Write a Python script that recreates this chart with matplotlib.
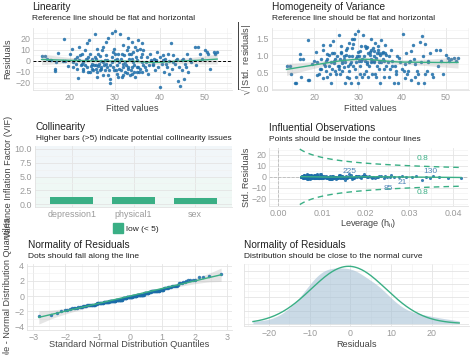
import numpy as np
import matplotlib
matplotlib.use("Agg")
import matplotlib.pyplot as plt
from matplotlib.ticker import MultipleLocator, NullFormatter
from matplotlib.patches import Patch
from statistics import NormalDist

plt.rcParams['font.family'] = ['Liberation Sans', 'DejaVu Sans']

# fitted values / residuals
fitted = [13.7, 14.4, 14.8, 15.6, 16.7, 16.7, 17.4, 18.7, 18.9, 19.6,
          20.0, 20.4, 20.7, 21.1, 21.5, 21.9, 22.1, 22.2, 22.4, 22.6,
          22.8, 23.0, 23.3, 23.5, 23.7, 23.9, 24.1, 24.3, 24.4, 24.6,
          24.8, 25.0, 25.2, 25.6, 25.7, 25.9, 26.1, 26.3, 26.4, 26.7,
          26.8, 27.0, 27.3, 27.4, 27.6, 27.8, 28.0, 28.1, 28.3, 28.5,
          28.7, 28.9, 29.0, 29.3, 29.4, 29.6, 29.8, 30.0, 30.1, 30.4,
          30.5, 30.7, 30.9, 31.1, 31.3, 31.5, 31.7, 31.9, 32.1, 32.2,
          32.4, 32.6, 32.8, 33.0, 33.2, 33.3, 33.6, 33.7, 33.9, 34.1,
          34.3, 34.4, 34.7, 34.8, 35.0, 35.2, 35.4, 35.6, 35.8, 35.9,
          36.1, 36.3, 36.7, 37.0, 37.4, 37.8, 38.1, 38.4, 38.7, 38.9,
          39.3, 39.6, 39.9, 40.1, 40.4, 40.6, 40.9, 41.1, 41.5, 41.7,
          42.1, 42.4, 42.6, 43.0, 43.3, 43.7, 44.1, 44.3, 44.4, 44.8,
          45.0, 45.3, 45.6, 45.9, 46.3, 46.7, 47.0, 47.8, 48.1, 48.5,
          48.9, 49.3, 50.0, 50.4, 50.7, 51.1, 51.9, 52.2, 52.7,
          22.6, 23.3, 23.9, 24.8, 25.3, 25.8, 26.3, 26.7, 27.0, 27.4,
          28.0, 28.3, 28.9, 29.3, 29.6, 30.0, 30.2, 30.5, 30.9, 31.3,
          31.6, 31.9, 32.2, 32.6, 33.0, 33.2, 33.5, 33.9, 34.2, 34.5,
          34.9, 35.2, 35.6, 35.9, 36.3, 36.9, 37.2, 37.6, 38.5, 39.1,
          40.7, 41.3, 41.9, 42.9, 43.6, 45.2, 45.8, 20.7, 21.3, 18.5,
          17.0, 15.9, 21.6, 22.1, 23.0, 24.1, 24.4, 25.6, 26.1, 27.8,
          28.5, 30.7, 31.7, 33.7, 34.8,
          27.2, 29.9, 32.9, 34.0, 36.0, 26.0]
residuals = [4.2, 4.2, 1.8, 0.3, -7.3, -9.7, 7.3, 19.4, -0.6, -4.8,
             6.4, 10.9, -1.5, 1.8, -7.3, -15.5, 12.4, 4.8, -4.2, 6.4,
             -9.7, -1.2, 9.4, 1.8, 15.5, -5.8, -10.3, 18.5, 6.4, -5.2,
             -7.3, 1.8, -8.8, 23.6, -4.2, 1.8, -10.3, 6.4, -2.7, 3.9,
             -7.3, -0.3, 12.4, -13.3, -4.2, 0.9, 17.0, 4.8, -5.8, 20.0,
             -8.8, -16.4, -20.3, 24.5, -1.2, 7.9, -8.8, 26.7, 6.4, -4.2,
             -11.8, 6.4, -7.3, 23.6, 1.8, -14.8, -2.7, 13.9, 4.8, -10.3,
             -4.2, 9.4, -7.3, 20.0, 1.8, -13.3, 6.4, -5.8, 17.0, -1.2,
             -10.3, 12.4, 3.3, -5.8, 9.4, 19.0, -10.3, 10.9, 3.3, -1.2,
             -10.3, 9.4, -5.8, -1.2, -12.4, 6.4, 0.3, -4.2, 1.8, -8.8,
             7.9, -5.8, 3.3, -23.9, -2.7, 4.8, -10.3, 1.8, -5.8, 6.4,
             -0.6, 15.5, -7.3, 4.8, -2.7, 1.8, -17.9, -5.8, -22.4, -8.8,
             0.3, -16.4, -2.7, 6.4, -10.3, 1.8, -1.2, 12.4, -4.2, 12.4,
             6.4, 1.8, 9.4, 7.9, 6.4, -7.3, 7.9, 6.4, 7.9,
             -2.7, -4.2, 0.3, -2.7, -4.2, -7.3, -5.2, -8.8, -5.8, -1.2,
             -2.7, 0.3, -4.2, 3.3, -5.8, 0.3, -8.8, 1.8, -1.2, -8.8,
             6.4, -5.8, -1.2, -11.2, -5.8, 6.4, -8.8, 1.8, -4.2, -14.8,
             0.3, -5.8, -7.3, 6.4, -4.2, -8.8, 3.3, -4.2, -2.7, 0.3,
             0.9, -2.7, -11.8, -1.2, 0.3, 1.8, -5.8, -5.8, -3.3, -0.6,
             -1.2, 0.3, 3.3, 0.9, -7.3, 3.3, -10.3, 3.3, -14.8, -8.8,
             -13.3, -14.8, -13.3, -11.8, -10.3,
             9.4, 10.9, 12.4, 7.9, 15.5, 10.9]
leverage = [0.0062, 0.0105, 0.0078, 0.0131, 0.0094, 0.0057, 0.0183, 0.0069, 0.0112, 0.0088,
            0.0145, 0.0071, 0.0203, 0.0098, 0.0064, 0.0121, 0.0167, 0.0083, 0.0052, 0.0139,
            0.0091, 0.0226, 0.0075, 0.0118, 0.0059, 0.0154, 0.0102, 0.0067, 0.0191, 0.0086,
            0.0128, 0.0073, 0.0241, 0.0096, 0.0061, 0.0175, 0.0109, 0.0081, 0.0136, 0.0055,
            0.0214, 0.0093, 0.0068, 0.0149, 0.0116, 0.0077, 0.0259, 0.0101, 0.0063, 0.0162,
            0.0085, 0.0124, 0.0072, 0.0197, 0.0107, 0.0058, 0.0143, 0.0089, 0.0231, 0.0066,
            0.0114, 0.0079, 0.0171, 0.0097, 0.0053, 0.0133, 0.0276, 0.0084, 0.0119, 0.0070,
            0.0188, 0.0092, 0.0148, 0.0065, 0.0106, 0.0221, 0.0080, 0.0127, 0.0060, 0.0159,
            0.0099, 0.0074, 0.0208, 0.0113, 0.0087, 0.0138, 0.0056, 0.0178, 0.0095, 0.0292,
            0.0069, 0.0122, 0.0082, 0.0164, 0.0103, 0.0061, 0.0248, 0.0090, 0.0130, 0.0076,
            0.0185, 0.0111, 0.0054, 0.0152, 0.0087, 0.0315, 0.0072, 0.0126, 0.0098, 0.0199,
            0.0064, 0.0141, 0.0081, 0.0236, 0.0108, 0.0059, 0.0169, 0.0093, 0.0329, 0.0077,
            0.0117, 0.0067, 0.0212, 0.0100, 0.0134, 0.0057, 0.0181, 0.0088, 0.0264, 0.0071,
            0.0156, 0.0104, 0.0062, 0.0194, 0.0085, 0.0346, 0.0125, 0.0079, 0.0146, 0.0052,
            0.0228, 0.0096, 0.0115, 0.0068, 0.0173, 0.0368, 0.0090, 0.0137, 0.0075, 0.0205,
            0.0058, 0.0110, 0.0283, 0.0083, 0.0160, 0.0066, 0.0123, 0.0097, 0.0389, 0.0073,
            0.0190, 0.0102, 0.0135, 0.0060, 0.0244, 0.0086, 0.0150, 0.0070, 0.0119, 0.0305,
            0.0094, 0.0063, 0.0177, 0.0107, 0.0418, 0.0080, 0.0132, 0.0056, 0.0216, 0.0091,
            0.0166, 0.0074, 0.0112, 0.0338, 0.0065, 0.0142, 0.0099, 0.0186, 0.0078, 0.0255,
            0.0104, 0.0061, 0.0128, 0.0089, 0.0201, 0.0071, 0.0355, 0.0116, 0.0084, 0.0158,
            0.0068, 0.0124, 0.0093, 0.0171, 0.0057, 0.0109, 0.0082, 0.0139, 0.0075, 0.0196]

vif_terms = ['depression1', 'physical1', 'sex']
vif_values = [1.22, 1.22, 1.15]

# labelled observations in the influence plot (id, leverage, std. residual of label)
infl_ids = ['225', '130', '21', '85']
infl_lev = [0.0164, 0.0347, 0.0283, 0.0251]
infl_res = [5.1, 4.8, -4.9, -10.9]
cook_level = 0.8
n_params = 4

BLUE = '#1b6ca8'
GREEN = '#3aaf85'
TXT = '#222222'
TICK = '#9a9a9a'

fitted = np.array(fitted)
residuals = np.array(residuals)
leverage = np.array(leverage)
n = len(residuals)
sd = residuals.std(ddof=1)
std_res = residuals / sd


def loess(x, y, grid, span=0.75):
    k = int(np.ceil(span * len(x)))
    rows = []
    for g in grid:
        d = np.abs(x - g)
        h = np.sort(d)[k - 1]
        w = np.clip(1 - (d / h) ** 3, 0, None) ** 3
        X = np.column_stack([np.ones(len(x)), x - g])
        XtW = X.T * w
        rows.append(np.linalg.solve(XtW @ X, XtW)[0])
    L = np.array(rows)
    fit = L @ y
    s = np.std(y - np.interp(x, grid, fit))
    return fit, 1.97 * s * np.sqrt((L ** 2).sum(axis=1))


W, H = 474, 355
fig = plt.figure(figsize=(4.74, 3.55), dpi=100)


def box(l, t, r, b):
    return [l / W, 1 - b / H, (r - l) / W, (b - t) / H]


def style(ax, xmaj, xmin, ymaj, ymin):
    ax.xaxis.set_major_locator(MultipleLocator(xmaj))
    ax.xaxis.set_minor_locator(MultipleLocator(xmin))
    ax.yaxis.set_major_locator(MultipleLocator(ymaj))
    ax.yaxis.set_minor_locator(MultipleLocator(ymin))
    ax.grid(which='major', color='#e4e4e4', lw=0.6)
    ax.grid(which='minor', color='#f0f0f0', lw=0.4)
    ax.set_axisbelow(True)
    ax.tick_params(which='both', length=0, labelsize=6.4, labelcolor=TICK, pad=2)
    for s in ['top', 'right']:
        ax.spines[s].set_visible(False)
    for s in ['left', 'bottom']:
        ax.spines[s].set_color('#e2e2e2')
        ax.spines[s].set_linewidth(0.6)


def titles(x, y, title, sub):
    fig.text(x / W, 1 - y / H, title, fontsize=7.3, color=TXT, va='center')
    fig.text(x / W, 1 - (y + 12) / H, sub, fontsize=6, color=TXT, va='center')


def labels(ax, xl, xpos, yl, ypos):
    if xl:
        ax.set_xlabel(xl, fontsize=6.6, color='#444444', va='center')
        ax.xaxis.set_label_coords(0.5, xpos)
    if yl:
        ax.set_ylabel(yl, fontsize=6.6, color='#444444', va='center')
        ax.yaxis.set_label_coords(ypos, 0.5)


# Linearity
ax = fig.add_axes(box(33, 28, 232, 90))
style(ax, 10, 5, 10, 5)
ax.scatter(fitted, residuals, s=6, color=BLUE, alpha=0.85, lw=0, zorder=2)
g = np.linspace(fitted.min(), fitted.max(), 80)
f, b = loess(fitted, residuals, g)
ax.fill_between(g, f - b, f + b, color='#999999', alpha=0.25, lw=0, zorder=3)
ax.plot(g, f, color=GREEN, lw=1, zorder=4)
ax.axhline(0, color='black', ls='--', lw=0.7, dashes=(3, 2), zorder=5)
ax.set_xlim(11.8, 56)
ax.set_ylim(-26.4, 29.4)
labels(ax, 'Fitted values', -0.30, 'Residuals', -0.126)
titles(32, 7, 'Linearity', 'Reference line should be flat and horizontal')

# Homogeneity of variance
sq = np.sqrt(np.abs(std_res))
ax = fig.add_axes(box(272, 28, 469, 90))
style(ax, 10, 5, 0.5, 0.25)
ax.scatter(fitted, sq, s=6, color=BLUE, alpha=0.85, lw=0, zorder=2)
f, b = loess(fitted, sq, g)
ax.fill_between(g, f - b, f + b, color='#999999', alpha=0.25, lw=0, zorder=3)
ax.plot(g, f, color=GREEN, lw=1, zorder=4)
ax.set_xlim(10.4, 55.2)
ax.set_ylim(-0.03, 1.8)
ax.yaxis.set_major_formatter(matplotlib.ticker.FormatStrFormatter('%.1f'))
labels(ax, 'Fitted values', -0.30, r'$\sqrt{|\mathregular{Std.\ residuals}|}$', -0.135)
titles(272, 7, 'Homogeneity of Variance', 'Reference line should be flat and horizontal')

# Collinearity
ax = fig.add_axes(box(35, 146, 232, 207))
style(ax, 1, 0.5, 2.5, 1.25)
ax.xaxis.set_minor_locator(MultipleLocator(100))
ax.axhspan(-0.5, 5, color=GREEN, alpha=0.08, lw=0, zorder=0)
ax.axhspan(5, 10.5, color=BLUE, alpha=0.06, lw=0, zorder=0)
xs = np.arange(1, len(vif_terms) + 1)
ax.bar(xs, vif_values, width=0.7, color=GREEN, zorder=3)
ax.set_xticks(xs)
ax.set_xticklabels(vif_terms)
ax.set_xlim(0.4, 3.6)
ax.set_ylim(-0.5, 10.5)
ax.yaxis.set_major_formatter(matplotlib.ticker.FormatStrFormatter('%.1f'))
labels(ax, None, 0, 'Variance Inflation Factor (VIF)', -0.137)
titles(36, 127, 'Collinearity', 'Higher bars (>5) indicate potential collinearity issues')
fig.legend(handles=[Patch(color=GREEN, label='low (< 5)')], loc='center',
           bbox_to_anchor=(136 / W, 1 - 228 / H), frameon=False, fontsize=6,
           handlelength=1.1, handleheight=1.6, handletextpad=0.4, labelcolor=TXT)

# Influential observations
ax = fig.add_axes(box(269, 148, 468, 206))
style(ax, 0.01, 0.005, 10, 5)
sr = residuals / (sd * np.sqrt(1 - leverage))
hh = np.linspace(leverage.min() * 0.95, leverage.max(), 100)
cc = np.sqrt(cook_level * n_params * (1 - hh) / hh)
ax.plot(hh, cc, color=GREEN, ls='--', lw=1, dashes=(4, 3), zorder=3)
ax.plot(hh, -cc, color=GREEN, ls='--', lw=1, dashes=(4, 3), zorder=3)
ax.axhline(0, color='#bbbbbb', ls='--', lw=0.6, zorder=1)
ax.axvline(0, color='#bbbbbb', ls='--', lw=0.6, zorder=1)
ax.scatter(leverage, sr, s=5, color=BLUE, alpha=0.85, lw=0, zorder=2)
gl = np.linspace(leverage.min(), leverage.max(), 80)
f, b = loess(leverage, sr, gl)
ax.plot(gl, f, color=GREEN, lw=1, zorder=4)
for t, lx, ly in zip(infl_ids, infl_lev, infl_res):
    ax.text(lx, ly, t, fontsize=6, color='#4f86b8', ha='center', va='center', zorder=5)
ax.text(0.0331, 16.6, str(cook_level), fontsize=6, color=GREEN, ha='center', va='center')
ax.text(0.0331, -14.5, str(cook_level), fontsize=6, color=GREEN, ha='center', va='center')
ax.set_xlim(-0.0021, 0.0434)
ax.set_ylim(-26.7, 26.4)
ax.xaxis.set_major_formatter(matplotlib.ticker.FormatStrFormatter('%.2f'))
labels(ax, r'Leverage ($\mathregular{h_{ii}}$)', -0.30, 'Std. Residuals', -0.114)
titles(269, 128, 'Influential Observations', 'Points should be inside the contour lines')

# Normality (QQ)
nd = NormalDist()
pp = (np.arange(1, n + 1) - 0.5) / n
theo = np.array([nd.inv_cdf(p) for p in pp])
samp = np.sort(std_res)
dens = np.exp(-theo ** 2 / 2) / np.sqrt(2 * np.pi)
se = np.sqrt(pp * (1 - pp) / n) / dens
ax = fig.add_axes(box(27, 264, 232, 330))
style(ax, 1, 0.5, 2, 1)
ax.fill_between(theo, theo - 1.96 * se, theo + 1.96 * se, color='#999999', alpha=0.25, lw=0, zorder=1)
ax.plot(theo, theo, color=GREEN, lw=1, zorder=3)
ax.scatter(theo, samp, s=6, color=BLUE, alpha=0.85, lw=0, zorder=2)
ax.set_xlim(-3.19, 3.16)
ax.set_ylim(-4.5, 4.25)
labels(ax, 'Standard Normal Distribution Quantiles', -0.227,
       'Sample - Normal Distribution Quantiles', -0.093)
titles(28, 245, 'Normality of Residuals', 'Dots should fall along the line')

# Normality (density)
xr = np.linspace(residuals.min(), residuals.max(), 200)
iqr = np.subtract(*np.percentile(residuals, [75, 25]))
bw = 0.9 * min(sd, iqr / 1.34) * n ** -0.2
kde = np.exp(-0.5 * ((xr[:, None] - residuals[None, :]) / bw) ** 2).sum(axis=1) / (n * bw * np.sqrt(2 * np.pi))
norm_curve = np.exp(-0.5 * ((xr - residuals.mean()) / sd) ** 2) / (sd * np.sqrt(2 * np.pi))
ax = fig.add_axes(box(244, 264, 469, 326))
style(ax, 10, 5, 0.01, 0.005)
ax.fill_between(xr, 0, kde, color='#9fbdd3', alpha=0.55, lw=0, zorder=1)
ax.plot(xr, norm_curve, color=GREEN, lw=1, zorder=3)
top = max(kde.max(), norm_curve.max())
ax.set_ylim(-0.04 * top, 1.04 * top)
ax.set_xlim(-26.1, 29.1)
ax.yaxis.set_major_formatter(NullFormatter())
labels(ax, 'Residuals', -0.306, None, 0)
titles(244, 245, 'Normality of Residuals', 'Distribution should be close to the normal curve')

fig.savefig('out.png', dpi=100)
